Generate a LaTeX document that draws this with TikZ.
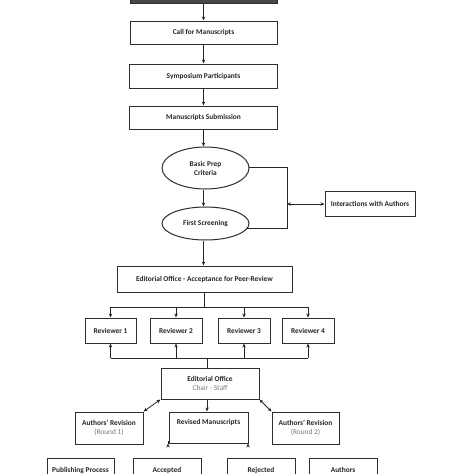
\documentclass[tikz,border=0pt]{standalone}
\usepackage{fontspec}
\setmainfont{Carlito}
\usetikzlibrary{shapes.geometric,arrows.meta,calc}
\definecolor{bordc}{HTML}{2E2E2E}
\definecolor{subc}{HTML}{7A7A7A}
\newcommand{\subtxt}[1]{{\fontsize{7.4}{9}\selectfont\mdseries\color{subc}#1}}
\begin{document}
\begin{tikzpicture}[x=1pt,y=-1pt,
  every node/.style={font=\fontsize{7.4}{9}\selectfont\bfseries, text=black!85},
  box/.style={draw=bordc, line width=1pt, rectangle, inner sep=0pt, align=center},
  oval/.style={draw=bordc, line width=1pt, ellipse, inner sep=0pt, align=center},
  conn/.style={draw=black!85, line width=0.8pt},
  arr/.style={conn, -{Stealth[length=4pt,width=3.4pt]}},
  darr/.style={conn, {Stealth[length=4pt,width=3.4pt]}-{Stealth[length=4pt,width=3.4pt]}}]
\useasboundingbox (0,0) rectangle (474,474);
\clip (0,0) rectangle (474,474);
\fill[white] (0,0) rectangle (474,474);

\node[box, fill=black!72, minimum width=147pt, minimum height=10pt] (top) at (203.5,-2) {};
\node[box, minimum width=147pt, minimum height=23pt] (call) at (203.5,32.5) {Call for Manuscripts};
\node[box, minimum width=148pt, minimum height=24pt] (symp) at (203.5,76) {Symposium Participants};
\node[box, minimum width=148pt, minimum height=23pt] (subm) at (203.5,117.5) {Manuscripts Submission};
\node[oval, minimum width=87pt, minimum height=42pt] (basic) at (205.5,168) {Basic Prep\\Criteria};
\node[oval, minimum width=87pt, minimum height=33pt] (first) at (205.5,223.5) {First Screening};
\node[box, minimum width=90pt, minimum height=25pt] (inter) at (370,204) {Interactions with Authors};
\node[box, minimum width=175pt, minimum height=26pt] (acc) at (204.5,279) {Editorial Office - Acceptance for Peer-Review};

\node[box, minimum width=51pt, minimum height=25pt] (r1) at (110.5,330.5) {Reviewer 1};
\node[box, minimum width=52pt, minimum height=25pt] (r2) at (176,330.5) {Reviewer 2};
\node[box, minimum width=52pt, minimum height=25pt] (r3) at (244,330.5) {Reviewer 3};
\node[box, minimum width=52pt, minimum height=25pt] (r4) at (308,330.5) {Reviewer 4};

\node[box, minimum width=98pt, minimum height=31pt] (chair) at (210,383.5) {Editorial Office\\\subtxt{Chair - Staff}};
\node[box, minimum width=68pt, minimum height=32pt] (ar1) at (109,428) {Authors’ Revision\\\subtxt{(Round 1)}};
\node[box, minimum width=79pt, minimum height=31pt, text depth=11pt] (rev) at (208.5,427.5) {Revised Manuscripts};
\node[box, minimum width=67pt, minimum height=32pt] (ar2) at (305.5,428) {Authors’ Revision\\\subtxt{(Round 2)}};

\node[box, minimum width=67pt, minimum height=32pt, anchor=north] (pub) at (80.5,458) {Publishing Process\\\phantom{X}};
\node[box, minimum width=68pt, minimum height=32pt, anchor=north] (acpt) at (167,458) {Accepted\\\phantom{X}};
\node[box, minimum width=68pt, minimum height=32pt, anchor=north] (rej) at (261,458) {Rejected\\\phantom{X}};
\node[box, minimum width=68pt, minimum height=32pt, anchor=north] (auth) at (343,458) {Authors\\\phantom{X}};

% main column
\draw[arr] (top.south -| call.north) -- (call.north);
\draw[arr] (call) -- (symp);
\draw[arr] (symp) -- (subm);
\draw[arr] (subm.south) -- (subm.south |- basic.north);
\draw[arr] (basic.south -| subm.south) -- (subm.south |- first.north);
\draw[arr] (first.south -| subm.south) -- (subm.south |- acc.north);

% loop with authors
\coordinate (j1) at (287,167);
\coordinate (j2) at (287,228);
\coordinate (j3) at (287,204);
\draw[conn] ($(basic.center)+(43.5,-1)$) -- (j1) -- (j2) -- ($(first.center)+(41.8,4.5)$);
\draw[darr] (j3) -- (inter.west);

% reviewers top bus
\coordinate (b1) at (204.5,307);
\draw[conn] (acc.south) -- (b1);
\draw[conn] (r1.north |- b1) -- (r4.north |- b1);
\foreach \r in {r1,r2,r3,r4} \draw[arr] (\r.north |- b1) -- (\r.north);

% reviewers bottom bus
\coordinate (b2) at (207,358);
\draw[conn] (r1.south |- b2) -- (r4.south |- b2);
\draw[conn] (b2) -- (b2 |- chair.north);
\foreach \r in {r1,r2,r3,r4} \draw[arr] (\r.south |- b2) -- (\r.south);

% chair to revisions
\draw[darr] (chair.south west) -- (ar1.north east);
\draw[darr] (chair.south east) -- (ar2.north west);
\draw[arr] (b2 |- chair.south) -- (b2 |- rev.north);

% revised to accepted / rejected
\draw[arr] ($(rev.south west)+(-0.5,0)$) -- ($(rev.south west)+(-0.5,0)$ |- acpt.north);
\draw[arr] ($(rev.south east)+(-0.5,0)$) -- ($(rev.south east)+(-0.5,0)$ |- rej.north);
\end{tikzpicture}
\end{document}
